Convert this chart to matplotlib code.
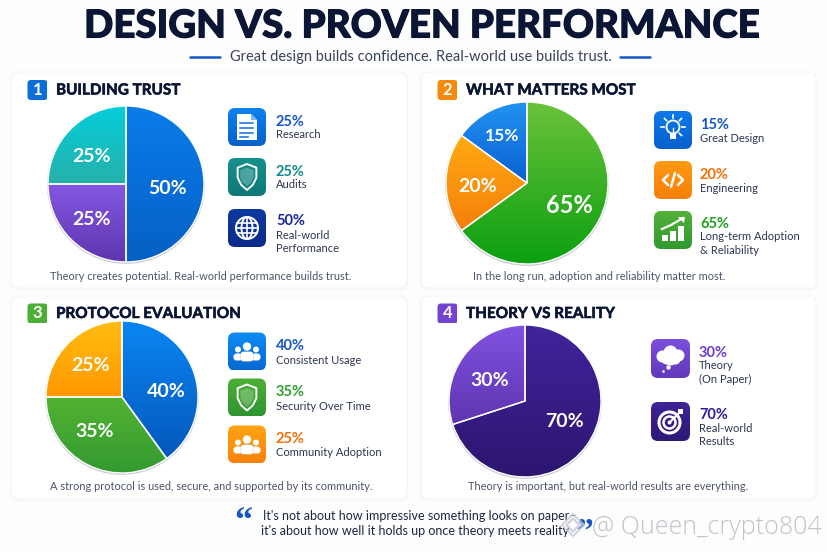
import numpy as np
import matplotlib
matplotlib.use("Agg")
import matplotlib.pyplot as plt
import matplotlib.patheffects as pe
from matplotlib.colors import LinearSegmentedColormap
from matplotlib.patches import FancyBboxPatch, Circle, Polygon, Rectangle, Ellipse

W, H = 828, 552
FONT = "Lato"
plt.rcParams["font.family"] = [FONT, "DejaVu Sans"]

TITLE = "DESIGN VS. PROVEN PERFORMANCE"
SUBTITLE = "Great design builds confidence. Real-world use builds trust."
QUOTE1 = "It's not about how impressive something looks on paper–"
QUOTE2 = "it's about how well it holds up once theory meets reality"
WATERMARK = "@ Queen_crypto804"

titles = ["BUILDING TRUST", "WHAT MATTERS MOST", "PROTOCOL EVALUATION", "THEORY VS REALITY"]
captions = ["Theory creates potential. Real-world performance builds trust.",
            "In the long run, adoption and reliability matter most.",
            "A strong protocol is used, secure, and supported by its community.",
            "Theory is important, but real-world results are everything."]
values1 = [50, 25, 25]
values2 = [65, 20, 15]
values3 = [40, 35, 25]
values4 = [70, 30]
labels1 = ["Real-world\nPerformance", "Audits", "Research"]
labels2 = ["Long-term Adoption\n& Reliability", "Engineering", "Great Design"]
labels3 = ["Consistent Usage", "Security Over Time", "Community Adoption"]
labels4 = ["Real-world\nResults", "Theory\n(On Paper)"]

badge_cols = ["#0B6FD8", "#F58A0C", "#4CAF35", "#7444D0"]
cards = [(11, 72, 396, 216), (421, 72, 395, 216), (11, 296, 396, 203), (421, 296, 395, 203)]
pies = [(126, 184, 78), (527, 183, 81), (122, 397, 76), (525, 401, 76)]
grads = [
    [("#0A7CEA", "#0560C4"), ("#8458E2", "#5F35B0"), ("#04CEDA", "#26B0AA")],
    [("#6AC23A", "#0CA010"), ("#FFAA12", "#F57F0A"), ("#2292F2", "#0A60D0")],
    [("#0A86F2", "#0558BC"), ("#52B232", "#349A30"), ("#FFBC10", "#FF9800")],
    [("#41239C", "#2C1670"), ("#8152E2", "#5E35B0")],
]
pct_r = [[.53, .58, .58], [.57, .60, .67], [.60, .60, .60], [.55, .58]]
pct_fs = [[14, 14, 14], [17, 14, 12.5], [14, 14, 14], [14, 14]]
pct_shift = [[(0, 5), (-3, 4), (-3, 4)], [(1, 2), (-1, 4), (0, 1)], [(1, 9), (-7, -6), (1, 1)], [(6, -4), (0, 5)]]

fig = plt.figure(figsize=(W / 100, H / 100), dpi=100, facecolor="#FDFDFE")
ov = fig.add_axes([0, 0, 1, 1], zorder=0)
ov.set_xlim(0, W); ov.set_ylim(H, 0); ov.axis("off")
top = fig.add_axes([0, 0, 1, 1], zorder=5)
top.set_xlim(0, W); top.set_ylim(H, 0); top.axis("off"); top.patch.set_alpha(0)

TXT = "#0B1635"; LBL = "#2C3650"; CAP = "#4A5468"

top.text(422, 26.5, TITLE, fontsize=27.7, fontweight="black", color=TXT, ha="center", va="center",
         path_effects=[pe.withStroke(linewidth=.8, foreground=TXT)])
top.text(421, 57, SUBTITLE, fontsize=10.5, color="#3A4458", ha="center", va="center")
for xa, xb in [(190, 220), (620, 650)]:
    top.plot([xa, xb], [57, 57], color="#1556C4", lw=1.8, solid_capstyle="round")

for x, y, w, h in cards:
    for k, a in [(2, .012), (1, .02)]:
        ov.add_patch(FancyBboxPatch((x - k, y - k + 1), w + 2 * k, h + 2 * k,
                                    boxstyle="round,pad=0,rounding_size=9", fc="#667799", ec="none", alpha=a))
    ov.add_patch(FancyBboxPatch((x, y), w, h, boxstyle="round,pad=0,rounding_size=8", fc="white", ec="#F3F4F7", lw=.6))


def rrect(cx, cy, s, c1, c2, rad=6):
    p = FancyBboxPatch((cx - s / 2, cy - s / 2), s, s, boxstyle=f"round,pad=0,rounding_size={rad}",
                       fc="none", ec="none", zorder=2)
    top.add_patch(p)
    cm = LinearSegmentedColormap.from_list("g", [c1, c2])
    im = top.imshow(np.linspace(0, 1, 64)[:, None], extent=(cx - s / 2, cx + s / 2, cy + s / 2, cy - s / 2),
                    cmap=cm, aspect="auto", zorder=2)
    im.set_clip_path(p)


def shield(cx, cy, s, ec="white", inner=True):
    pts = np.array([(0, -1), (.72, -.72), (.72, .05), (.45, .6), (0, 1), (-.45, .6), (-.72, .05), (-.72, -.72)])
    top.add_patch(Polygon(pts * s + (cx, cy), closed=True, fc="none", ec=ec, lw=1.4, joinstyle="round", zorder=3))
    if inner:
        top.add_patch(Polygon(pts * s * .72 + (cx, cy), closed=True, fc="#FFFFFF40", ec="none", zorder=3))


def doc(cx, cy):
    pts = np.array([(-10, -13), (4, -13), (10, -7), (10, 13), (-10, 13)])
    top.add_patch(Polygon(pts + (cx, cy), closed=True, fc="white", ec="none", zorder=3))
    top.add_patch(Polygon(np.array([(4, -13), (4, -7), (10, -7)]) + (cx, cy), closed=True, fc="#7FB4F0", ec="none", zorder=3))
    for i, dy in enumerate([-4, 1, 5.5, 10]):
        top.plot([cx - 7, cx + (6 if i != 3 else 1)], [cy + dy, cy + dy], color="#0A6CD8", lw=1.1, zorder=4)


def globe(cx, cy):
    r = 11
    kw = dict(fc="none", ec="white", lw=1.4, zorder=3)
    top.add_patch(Circle((cx, cy), r, **kw))
    top.add_patch(Ellipse((cx, cy), r, 2 * r, **kw))
    top.plot([cx, cx], [cy - r, cy + r], color="white", lw=1.2, zorder=3)
    for d in [-5, 0, 5]:
        hw = np.sqrt(r * r - d * d)
        top.plot([cx - hw, cx + hw], [cy + d, cy + d], color="white", lw=1.2, zorder=3)


def bulb(cx, cy):
    top.add_patch(Circle((cx, cy - 3), 6.5, fc="none", ec="white", lw=1.3, zorder=3))
    top.add_patch(Rectangle((cx - 3, cy + 4), 6, 5, fc="white", ec="none", zorder=3))
    top.plot([cx, cx], [cy - 2, cy + 4], color="white", lw=1, zorder=3)
    for a in np.radians([-90, -45, 0, 45, 180, 225]):
        top.plot([cx + 9 * np.cos(a), cx + 12 * np.cos(a)], [cy - 3 + 9 * np.sin(a), cy - 3 + 12 * np.sin(a)],
                 color="white", lw=1.2, zorder=3)


def code(cx, cy):
    kw = dict(color="white", lw=1.8, zorder=3, solid_capstyle="round", solid_joinstyle="round")
    top.plot([cx - 5, cx - 10, cx - 5], [cy - 5, cy, cy + 5], **kw)
    top.plot([cx + 5, cx + 10, cx + 5], [cy - 5, cy, cy + 5], **kw)
    top.plot([cx + 2, cx - 2], [cy - 7, cy + 7], **kw)


def growth(cx, cy):
    for dx, h in [(-8, 6), (0, 10), (8, 15)]:
        top.add_patch(Rectangle((cx + dx - 3, cy + 11 - h), 6, h, fc="white", ec="none", zorder=3))
    top.plot([cx - 11, cx - 2, cx + 10], [cy - 1, cy - 5, cy - 12], color="white", lw=1.6, zorder=3)
    top.add_patch(Polygon([(cx + 12, cy - 13), (cx + 5, cy - 13), (cx + 11, cy - 7)], fc="white", ec="none", zorder=3))


def people(cx, cy):
    for dx, rr, c in [(-9, 3, 0), (9, 3, 0), (0, 4.2, 1)]:
        top.add_patch(Circle((cx + dx, cy - 5 if c else cy - 2), rr, fc="white", ec="none", zorder=3))
    for dx, w, hh in [(-9, 9, 8), (9, 9, 8)]:
        top.add_patch(FancyBboxPatch((cx + dx - w / 2, cy + 2), w, hh - 1, boxstyle="round,pad=0,rounding_size=3",
                                     fc="white", ec="none", zorder=3))
    top.add_patch(FancyBboxPatch((cx - 6.5, cy), 13, 10, boxstyle="round,pad=0,rounding_size=3.5",
                                 fc="white", ec="#00000018", lw=.8, zorder=3))


def cloud(cx, cy):
    for dx, dy, r in [(-8, -2, 6), (0, -6, 7), (8, -3, 6), (0, 0, 7), (-4, 1, 5), (5, 1, 5)]:
        top.add_patch(Circle((cx + dx, cy + dy), r, fc="white", ec="none", zorder=3))
    top.add_patch(Circle((cx - 2, cy + 9), 2.2, fc="white", ec="none", zorder=3))
    top.add_patch(Circle((cx - 7, cy + 13), 1.3, fc="white", ec="none", zorder=3))


def target(cx, cy):
    for r, lw in [(10.5, 2.2), (6, 1.8)]:
        top.add_patch(Circle((cx - 1, cy + 1), r, fc="none", ec="white", lw=lw, zorder=3))
    top.add_patch(Circle((cx - 1, cy + 1), 2, fc="white", ec="none", zorder=3))
    top.plot([cx - 1, cx + 10], [cy + 1, cy - 10], color="white", lw=1.5, zorder=3)
    top.add_patch(Polygon([(cx + 8, cy - 8), (cx + 8, cy - 13), (cx + 13, cy - 13), (cx + 13, cy - 8)],
                          fc="white", ec="none", zorder=3))


def draw_shield(cx, cy):
    shield(cx, cy, 13)


legend1 = [(values1[2], labels1[2], 122, 135, "#1456C8", ("#0E82EE", "#0662CA"), doc, 127),
           (values1[1], labels1[1], 172, 185, "#128A8A", ("#16908C", "#0E7878"), draw_shield, 177),
           (values1[0], labels1[0], 221, 242, "#14289A", ("#0E3AA0", "#0C2A88"), globe, 228)]
legend2 = [(values2[2], labels2[2], 125, 138, "#1456C8", ("#0E7AE8", "#0660CC"), bulb, 130),
           (values2[1], labels2[1], 175, 188, "#F0700A", ("#FF9A12", "#F57F0A"), code, 180),
           (values2[0], labels2[0], 224, 243.5, "#1EA01E", ("#54B03A", "#2E9A2E"), growth, 230)]
legend3 = [(values3[0], labels3[0], 346, 360, "#1456C8", ("#0E8CF4", "#0668D2"), people, 351.5),
           (values3[1], labels3[1], 392, 406, "#2EA02E", ("#4CB035", "#2E9430"), draw_shield, 397.5),
           (values3[2], labels3[2], 439, 453, "#F0700A", ("#FFA412", "#FA820A"), people, 444.5)]
legend4 = [(values4[1], labels4[1], 353, 372.5, "#6A3CD0", ("#7C4FDC", "#6238BC"), cloud, 358.5),
           (values4[0], labels4[0], 415, 435, "#32189A", ("#3F2496", "#2E1878"), target, 421.5)]
legends = [(228, 276, 38, legend1), (654, 700, 38, legend2), (228, 276, 38, legend3), (651, 699, 39, legend4)]

all_values = [values1, values2, values3, values4]

for i in range(4):
    x, y, w, h = cards[i]
    bx = x + 26.5
    by = y + 18 if i < 2 else y + 17.5
    rrect(bx, by, 20, badge_cols[i], badge_cols[i], rad=3.5)
    top.text(bx, by, str(i + 1), color="white", fontsize=12, fontweight="bold", ha="center", va="center", zorder=4)
    top.text(x + 45, by + .5, titles[i], color=TXT, fontsize=11, fontweight="bold", ha="left", va="center",
             path_effects=[pe.withStroke(linewidth=.4, foreground=TXT)])
    cap_x = [201, 599, 211, 608][i]
    cap_y = [276, 277, 486, 487][i]
    top.text(cap_x, cap_y, captions[i], color=CAP, fontsize=7.9, ha="center", va="center")

    cx, cy, r = pies[i]
    pad = 1.08
    rp = r * pad
    ax = fig.add_axes([(cx - rp) / W, 1 - (cy + rp) / H, 2 * rp / W, 2 * rp / H], zorder=3)
    ax.patch.set_alpha(0)
    vals = all_values[i]
    wedges, _ = ax.pie(vals, startangle=90, counterclock=False, radius=1,
                       wedgeprops=dict(fc="none", ec="none"))
    ax.add_patch(Circle((0, -.012), 1.012, fc="#C8CCD6", ec="none", zorder=0))
    for wd, (c1, c2) in zip(wedges, grads[i]):
        bb = wd.get_path().get_extents()
        cm = LinearSegmentedColormap.from_list("g", [c1, c2])
        im = ax.imshow(np.linspace(0, 1, 128)[:, None], extent=(bb.x0, bb.x1, bb.y0, bb.y1),
                       cmap=cm, aspect="auto", zorder=1, origin="upper")
        im.set_clip_path(wd)
        wd.set(edgecolor="white", linewidth=1.0, zorder=2)
    ax.set_xlim(-pad, pad); ax.set_ylim(-pad, pad); ax.set_aspect("equal")
    total = sum(vals); acc = 0
    for v, rf, fs, (dx, dy) in zip(vals, pct_r[i], pct_fs[i], pct_shift[i]):
        a = 2 * np.pi * (acc + v / 2) / total
        acc += v
        ax.text(rf * np.sin(a) + dx / r, rf * np.cos(a) - dy / r, f"{v}%", color="white", fontsize=fs,
                fontweight="bold", ha="center", va="center", zorder=4)

    ix, tx, s, items = legends[i]
    for v, lab, py, ly, col, gr, fn, icy in items:
        rrect(ix + s / 2, icy, s, gr[0], gr[1], rad=7)
        fn(ix + s / 2, icy)
        top.text(tx, py, f"{v}%", color=col, fontsize=10.5, fontweight="bold", ha="left", va="center")
        top.text(tx, ly, lab, color=LBL, fontsize=8, ha="left", va="center", linespacing=1.3)

top.text(243, 523, "“", color="#1556C4", fontsize=26, fontweight="bold", family="Liberation Serif", ha="center", va="center")
top.text(263, 516, QUOTE1, color="#1C2740", fontsize=9, ha="left", va="center")
top.text(261, 531, QUOTE2, color="#1C2740", fontsize=9, ha="left", va="center")
top.text(585, 532, "”", color="#1556C4", fontsize=24, fontweight="bold", family="Liberation Serif", ha="center", va="center")

for s, a in [(11, .8), (6.5, .9)]:
    top.add_patch(Polygon([(573, 525 - s), (573 + s, 525), (573, 525 + s), (573 - s, 525)], closed=True,
                          fc="none", ec="#C9CCD2", lw=1.5, alpha=a, zorder=6))
top.text(592, 528, WATERMARK, color="#BEC0C6", fontsize=18, ha="left", va="center", alpha=.95, zorder=6,
         family="Open Sans", fontweight="light")

fig.savefig("out.png", dpi=100, facecolor=fig.get_facecolor())
